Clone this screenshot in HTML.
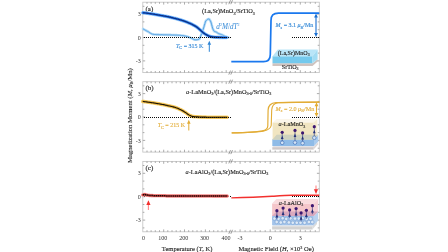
<!DOCTYPE html>
<html><head><meta charset="utf-8"><style>
html,body{margin:0;padding:0;background:#fff;}
body{width:448px;height:252px;overflow:hidden;}
svg{display:block;}
</style></head><body>
<svg width="448" height="252" viewBox="0 0 448 252">
<rect width="448" height="252" fill="#fff"/>
<rect x="142.8" y="2.2" width="176.5" height="70.4" fill="none" stroke="#c4c4c4" stroke-width="0.85"/>
<path d="M147.0,72.6v-1.6M147.0,2.2v1.6M151.1,72.6v-1.6M151.1,2.2v1.6M155.3,72.6v-1.6M155.3,2.2v1.6M159.5,72.6v-1.6M159.5,2.2v1.6M163.7,72.6v-2.4M163.7,2.2v2.4M167.8,72.6v-1.6M167.8,2.2v1.6M172.0,72.6v-1.6M172.0,2.2v1.6M176.2,72.6v-1.6M176.2,2.2v1.6M180.3,72.6v-1.6M180.3,2.2v1.6M184.5,72.6v-2.4M184.5,2.2v2.4M188.7,72.6v-1.6M188.7,2.2v1.6M192.8,72.6v-1.6M192.8,2.2v1.6M197.0,72.6v-1.6M197.0,2.2v1.6M201.2,72.6v-1.6M201.2,2.2v1.6M205.4,72.6v-2.4M205.4,2.2v2.4M209.5,72.6v-1.6M209.5,2.2v1.6M213.7,72.6v-1.6M213.7,2.2v1.6M217.9,72.6v-1.6M217.9,2.2v1.6M222.0,72.6v-1.6M222.0,2.2v1.6M226.2,72.6v-2.4M226.2,2.2v2.4M235.1,72.6v-1.6M235.1,2.2v1.6M240.1,72.6v-2.4M240.1,2.2v2.4M245.1,72.6v-1.6M245.1,2.2v1.6M250.1,72.6v-1.6M250.1,2.2v1.6M255.2,72.6v-1.6M255.2,2.2v1.6M260.2,72.6v-1.6M260.2,2.2v1.6M265.2,72.6v-1.6M265.2,2.2v1.6M270.2,72.6v-2.4M270.2,2.2v2.4M275.2,72.6v-1.6M275.2,2.2v1.6M280.2,72.6v-1.6M280.2,2.2v1.6M285.2,72.6v-1.6M285.2,2.2v1.6M290.3,72.6v-1.6M290.3,2.2v1.6M295.3,72.6v-1.6M295.3,2.2v1.6M300.3,72.6v-2.4M300.3,2.2v2.4M305.3,72.6v-1.6M305.3,2.2v1.6M310.3,72.6v-1.6M310.3,2.2v1.6M315.3,72.6v-1.6M315.3,2.2v1.6M142.8,68.7h1.6M319.3,68.7h-1.6M142.8,60.9h2.4M319.3,60.9h-2.4M142.8,53.1h1.6M319.3,53.1h-1.6M142.8,45.3h1.6M319.3,45.3h-1.6M142.8,37.5h2.4M319.3,37.5h-2.4M142.8,29.7h1.6M319.3,29.7h-1.6M142.8,21.9h1.6M319.3,21.9h-1.6M142.8,14.1h2.4M319.3,14.1h-2.4M142.8,6.3h1.6M319.3,6.3h-1.6" stroke="#8a8a8a" stroke-width="0.7" fill="none"/>
<path d="M228.8,74.6l1.7,-4M230.8,74.6l1.7,-4M228.8,4.2l1.7,-4M230.8,4.2l1.7,-4" stroke="#6a6a6a" stroke-width="0.65"/>
<text x="140.8" y="16.2" font-family="'Liberation Serif', serif" font-size="6.0" text-anchor="end" fill="#333" stroke="none">3</text>
<text x="140.8" y="39.6" font-family="'Liberation Serif', serif" font-size="6.0" text-anchor="end" fill="#333" stroke="none">0</text>
<text x="140.8" y="63.0" font-family="'Liberation Serif', serif" font-size="6.0" text-anchor="end" fill="#333" stroke="none">-3</text>
<rect x="142.8" y="81.7" width="176.5" height="70.4" fill="none" stroke="#c4c4c4" stroke-width="0.85"/>
<path d="M147.0,152.1v-1.6M147.0,81.7v1.6M151.1,152.1v-1.6M151.1,81.7v1.6M155.3,152.1v-1.6M155.3,81.7v1.6M159.5,152.1v-1.6M159.5,81.7v1.6M163.7,152.1v-2.4M163.7,81.7v2.4M167.8,152.1v-1.6M167.8,81.7v1.6M172.0,152.1v-1.6M172.0,81.7v1.6M176.2,152.1v-1.6M176.2,81.7v1.6M180.3,152.1v-1.6M180.3,81.7v1.6M184.5,152.1v-2.4M184.5,81.7v2.4M188.7,152.1v-1.6M188.7,81.7v1.6M192.8,152.1v-1.6M192.8,81.7v1.6M197.0,152.1v-1.6M197.0,81.7v1.6M201.2,152.1v-1.6M201.2,81.7v1.6M205.4,152.1v-2.4M205.4,81.7v2.4M209.5,152.1v-1.6M209.5,81.7v1.6M213.7,152.1v-1.6M213.7,81.7v1.6M217.9,152.1v-1.6M217.9,81.7v1.6M222.0,152.1v-1.6M222.0,81.7v1.6M226.2,152.1v-2.4M226.2,81.7v2.4M235.1,152.1v-1.6M235.1,81.7v1.6M240.1,152.1v-2.4M240.1,81.7v2.4M245.1,152.1v-1.6M245.1,81.7v1.6M250.1,152.1v-1.6M250.1,81.7v1.6M255.2,152.1v-1.6M255.2,81.7v1.6M260.2,152.1v-1.6M260.2,81.7v1.6M265.2,152.1v-1.6M265.2,81.7v1.6M270.2,152.1v-2.4M270.2,81.7v2.4M275.2,152.1v-1.6M275.2,81.7v1.6M280.2,152.1v-1.6M280.2,81.7v1.6M285.2,152.1v-1.6M285.2,81.7v1.6M290.3,152.1v-1.6M290.3,81.7v1.6M295.3,152.1v-1.6M295.3,81.7v1.6M300.3,152.1v-2.4M300.3,81.7v2.4M305.3,152.1v-1.6M305.3,81.7v1.6M310.3,152.1v-1.6M310.3,81.7v1.6M315.3,152.1v-1.6M315.3,81.7v1.6M142.8,148.2h1.6M319.3,148.2h-1.6M142.8,140.4h2.4M319.3,140.4h-2.4M142.8,132.6h1.6M319.3,132.6h-1.6M142.8,124.8h1.6M319.3,124.8h-1.6M142.8,117.0h2.4M319.3,117.0h-2.4M142.8,109.2h1.6M319.3,109.2h-1.6M142.8,101.4h1.6M319.3,101.4h-1.6M142.8,93.6h2.4M319.3,93.6h-2.4M142.8,85.8h1.6M319.3,85.8h-1.6" stroke="#8a8a8a" stroke-width="0.7" fill="none"/>
<path d="M228.8,154.1l1.7,-4M230.8,154.1l1.7,-4M228.8,83.7l1.7,-4M230.8,83.7l1.7,-4" stroke="#6a6a6a" stroke-width="0.65"/>
<text x="140.8" y="95.7" font-family="'Liberation Serif', serif" font-size="6.0" text-anchor="end" fill="#333" stroke="none">3</text>
<text x="140.8" y="119.1" font-family="'Liberation Serif', serif" font-size="6.0" text-anchor="end" fill="#333" stroke="none">0</text>
<text x="140.8" y="142.5" font-family="'Liberation Serif', serif" font-size="6.0" text-anchor="end" fill="#333" stroke="none">-3</text>
<rect x="142.8" y="161.4" width="176.5" height="70.4" fill="none" stroke="#c4c4c4" stroke-width="0.85"/>
<path d="M147.0,231.8v-1.6M147.0,161.4v1.6M151.1,231.8v-1.6M151.1,161.4v1.6M155.3,231.8v-1.6M155.3,161.4v1.6M159.5,231.8v-1.6M159.5,161.4v1.6M163.7,231.8v-2.4M163.7,161.4v2.4M167.8,231.8v-1.6M167.8,161.4v1.6M172.0,231.8v-1.6M172.0,161.4v1.6M176.2,231.8v-1.6M176.2,161.4v1.6M180.3,231.8v-1.6M180.3,161.4v1.6M184.5,231.8v-2.4M184.5,161.4v2.4M188.7,231.8v-1.6M188.7,161.4v1.6M192.8,231.8v-1.6M192.8,161.4v1.6M197.0,231.8v-1.6M197.0,161.4v1.6M201.2,231.8v-1.6M201.2,161.4v1.6M205.4,231.8v-2.4M205.4,161.4v2.4M209.5,231.8v-1.6M209.5,161.4v1.6M213.7,231.8v-1.6M213.7,161.4v1.6M217.9,231.8v-1.6M217.9,161.4v1.6M222.0,231.8v-1.6M222.0,161.4v1.6M226.2,231.8v-2.4M226.2,161.4v2.4M235.1,231.8v-1.6M235.1,161.4v1.6M240.1,231.8v-2.4M240.1,161.4v2.4M245.1,231.8v-1.6M245.1,161.4v1.6M250.1,231.8v-1.6M250.1,161.4v1.6M255.2,231.8v-1.6M255.2,161.4v1.6M260.2,231.8v-1.6M260.2,161.4v1.6M265.2,231.8v-1.6M265.2,161.4v1.6M270.2,231.8v-2.4M270.2,161.4v2.4M275.2,231.8v-1.6M275.2,161.4v1.6M280.2,231.8v-1.6M280.2,161.4v1.6M285.2,231.8v-1.6M285.2,161.4v1.6M290.3,231.8v-1.6M290.3,161.4v1.6M295.3,231.8v-1.6M295.3,161.4v1.6M300.3,231.8v-2.4M300.3,161.4v2.4M305.3,231.8v-1.6M305.3,161.4v1.6M310.3,231.8v-1.6M310.3,161.4v1.6M315.3,231.8v-1.6M315.3,161.4v1.6M142.8,227.9h1.6M319.3,227.9h-1.6M142.8,220.1h2.4M319.3,220.1h-2.4M142.8,212.3h1.6M319.3,212.3h-1.6M142.8,204.5h1.6M319.3,204.5h-1.6M142.8,196.7h2.4M319.3,196.7h-2.4M142.8,188.9h1.6M319.3,188.9h-1.6M142.8,181.1h1.6M319.3,181.1h-1.6M142.8,173.3h2.4M319.3,173.3h-2.4M142.8,165.5h1.6M319.3,165.5h-1.6" stroke="#8a8a8a" stroke-width="0.7" fill="none"/>
<path d="M228.8,233.8l1.7,-4M230.8,233.8l1.7,-4M228.8,163.4l1.7,-4M230.8,163.4l1.7,-4" stroke="#6a6a6a" stroke-width="0.65"/>
<text x="140.8" y="175.4" font-family="'Liberation Serif', serif" font-size="6.0" text-anchor="end" fill="#333" stroke="none">3</text>
<text x="140.8" y="198.8" font-family="'Liberation Serif', serif" font-size="6.0" text-anchor="end" fill="#333" stroke="none">0</text>
<text x="140.8" y="222.2" font-family="'Liberation Serif', serif" font-size="6.0" text-anchor="end" fill="#333" stroke="none">-3</text>
<text x="143.4" y="239.6" font-family="'Liberation Serif', serif" font-size="6.1" text-anchor="middle" fill="#333" stroke="none">0</text>
<text x="162.8" y="239.6" font-family="'Liberation Serif', serif" font-size="6.1" text-anchor="middle" fill="#333" stroke="none">100</text>
<text x="183.7" y="239.6" font-family="'Liberation Serif', serif" font-size="6.1" text-anchor="middle" fill="#333" stroke="none">200</text>
<text x="204.6" y="239.6" font-family="'Liberation Serif', serif" font-size="6.1" text-anchor="middle" fill="#333" stroke="none">300</text>
<text x="226.0" y="239.6" font-family="'Liberation Serif', serif" font-size="6.1" text-anchor="middle" fill="#333" stroke="none">400</text>
<text x="240.1" y="239.6" font-family="'Liberation Serif', serif" font-size="6.1" text-anchor="middle" fill="#333" stroke="none">-3</text>
<text x="270.2" y="239.6" font-family="'Liberation Serif', serif" font-size="6.1" text-anchor="middle" fill="#333" stroke="none">0</text>
<text x="300.3" y="239.6" font-family="'Liberation Serif', serif" font-size="6.1" text-anchor="middle" fill="#333" stroke="none">3</text>
<text x="187.2" y="250.8" font-family="'Liberation Serif', serif" stroke-width="0.12" paint-order="stroke" font-size="6.55" text-anchor="middle" fill="#1e1e1e" stroke="#1e1e1e">Temperature (<tspan font-style="italic">T</tspan>, K)</text>
<text x="276.1" y="250.8" font-family="'Liberation Serif', serif" stroke-width="0.12" paint-order="stroke" font-size="6.55" text-anchor="middle" fill="#1e1e1e" stroke="#1e1e1e">Magnetic Field (<tspan font-style="italic">H</tspan>, ×10<tspan font-size="4.2" dy="-2.2">3</tspan><tspan dy="2.2"> Oe)</tspan></text>
<text transform="translate(131.5,115.6) rotate(-90)" font-family="'Liberation Serif', serif" stroke-width="0.12" paint-order="stroke" font-size="6.65" text-anchor="middle" fill="#1e1e1e" stroke="#1e1e1e">Magnetization Moment (<tspan font-style="italic">M</tspan>, <tspan font-style="italic">μ</tspan><tspan font-size="4.2" dy="1.3">B</tspan><tspan dy="-1.3">/Mn)</tspan></text>
<text x="145.5" y="10.600000000000001" font-family="'Liberation Serif', serif" stroke-width="0.12" paint-order="stroke" font-size="7.0" fill="#1e1e1e" stroke="#1e1e1e">(a)</text>
<text x="145.5" y="90.10000000000001" font-family="'Liberation Serif', serif" stroke-width="0.12" paint-order="stroke" font-size="7.0" fill="#1e1e1e" stroke="#1e1e1e">(b)</text>
<text x="145.5" y="169.8" font-family="'Liberation Serif', serif" stroke-width="0.12" paint-order="stroke" font-size="7.0" fill="#1e1e1e" stroke="#1e1e1e">(c)</text>
<path d="M143.0,28.9L143.4,29.1L143.9,29.4L144.3,29.6L144.7,29.8L145.1,30.1L145.6,30.3L146.0,30.5L146.4,30.8L146.9,31.0L147.3,31.2L147.7,31.5L148.2,31.7L148.6,31.9L149.0,32.2L149.4,32.5L149.9,32.8L150.3,33.1L150.7,33.3L151.2,33.6L151.6,33.8L152.0,34.0L152.5,34.2L152.9,34.3L153.3,34.4L153.7,34.4L154.2,34.5L154.6,34.5L155.0,34.5L155.5,34.5L155.9,34.5L156.3,34.6L156.7,34.6L157.2,34.6L157.6,34.6L158.0,34.6L158.5,34.6L158.9,34.7L159.3,34.7L159.8,34.7L160.2,34.7L160.6,34.7L161.0,34.7L161.5,34.7L161.9,34.7L162.3,34.7L162.8,34.7L163.2,34.8L163.6,34.8L164.1,34.8L164.5,34.8L164.9,34.8L165.3,34.8L165.8,34.8L166.2,34.8L166.6,34.8L167.1,34.9L167.5,34.9L167.9,34.9L168.3,34.9L168.8,34.9L169.2,34.9L169.6,34.9L170.1,34.9L170.5,34.9L170.9,34.9L171.4,35.0L171.8,35.0L172.2,35.0L172.6,35.0L173.1,35.0L173.5,35.0L173.9,35.0L174.4,35.0L174.8,35.1L175.2,35.1L175.7,35.1L176.1,35.1L176.5,35.1L176.9,35.1L177.4,35.2L177.8,35.2L178.2,35.2L178.7,35.2L179.1,35.3L179.5,35.3L179.9,35.3L180.4,35.4L180.8,35.4L181.2,35.5L181.7,35.5L182.1,35.5L182.5,35.6L183.0,35.6L183.4,35.7L183.8,35.7L184.2,35.8L184.7,35.9L185.1,36.0L185.5,36.1L186.0,36.2L186.4,36.3L186.8,36.5L187.3,36.6L187.7,36.7L188.1,36.9L188.5,37.0L189.0,37.2L189.4,37.3L189.8,37.5L190.3,37.6L190.7,37.8L191.1,38.0L191.6,38.2L192.0,38.4L192.4,38.7L192.8,38.9L193.3,39.1L193.7,39.3L194.1,39.5L194.6,39.7L195.0,39.8L195.4,39.8L195.8,39.8L196.3,39.8L196.7,39.7L197.1,39.7L197.6,39.6L198.0,39.5L198.4,39.4L198.9,39.2L199.3,39.0L199.7,38.3L200.1,37.3L200.6,36.3L201.0,35.3L201.4,34.2L201.9,33.0L202.3,31.8L202.7,30.5L203.2,29.2L203.6,27.9L204.0,26.7L204.4,25.2L204.9,23.6L205.3,22.2L205.7,21.1L206.2,20.5L206.6,20.1L207.0,19.8L207.4,19.5L207.9,19.2L208.3,19.1L208.7,19.0L209.2,19.1L209.6,19.6L210.0,20.3L210.5,21.1L210.9,22.1L211.3,23.2L211.7,24.8L212.2,26.6L212.6,28.1L213.0,29.2L213.5,30.2L213.9,31.0L214.3,31.4L214.8,31.6L215.2,31.7L215.6,31.8L216.0,31.9L216.5,32.2L216.9,32.5L217.3,32.8L217.8,33.1L218.2,33.4L218.6,33.6L219.0,33.8L219.5,33.9L219.9,34.1L220.3,34.2L220.8,34.4L221.2,34.5L221.6,34.7L222.1,34.8L222.5,35.0L222.9,35.2L223.3,35.4L223.8,35.7L224.2,35.9L224.6,36.2L225.1,36.4L225.5,36.6L225.9,36.8L226.4,36.9L226.8,37.0L227.2,37.2L227.6,37.3L228.1,37.3L228.5,37.4" stroke="#b6dcf7" stroke-width="2.6" fill="none" stroke-linejoin="round" stroke-linecap="round"/>
<path d="M143.0,28.9L143.4,29.1L143.9,29.4L144.3,29.6L144.7,29.8L145.1,30.1L145.6,30.3L146.0,30.5L146.4,30.8L146.9,31.0L147.3,31.2L147.7,31.5L148.2,31.7L148.6,31.9L149.0,32.2L149.4,32.5L149.9,32.8L150.3,33.1L150.7,33.3L151.2,33.6L151.6,33.8L152.0,34.0L152.5,34.2L152.9,34.3L153.3,34.4L153.7,34.4L154.2,34.5L154.6,34.5L155.0,34.5L155.5,34.5L155.9,34.5L156.3,34.6L156.7,34.6L157.2,34.6L157.6,34.6L158.0,34.6L158.5,34.6L158.9,34.7L159.3,34.7L159.8,34.7L160.2,34.7L160.6,34.7L161.0,34.7L161.5,34.7L161.9,34.7L162.3,34.7L162.8,34.7L163.2,34.8L163.6,34.8L164.1,34.8L164.5,34.8L164.9,34.8L165.3,34.8L165.8,34.8L166.2,34.8L166.6,34.8L167.1,34.9L167.5,34.9L167.9,34.9L168.3,34.9L168.8,34.9L169.2,34.9L169.6,34.9L170.1,34.9L170.5,34.9L170.9,34.9L171.4,35.0L171.8,35.0L172.2,35.0L172.6,35.0L173.1,35.0L173.5,35.0L173.9,35.0L174.4,35.0L174.8,35.1L175.2,35.1L175.7,35.1L176.1,35.1L176.5,35.1L176.9,35.1L177.4,35.2L177.8,35.2L178.2,35.2L178.7,35.2L179.1,35.3L179.5,35.3L179.9,35.3L180.4,35.4L180.8,35.4L181.2,35.5L181.7,35.5L182.1,35.5L182.5,35.6L183.0,35.6L183.4,35.7L183.8,35.7L184.2,35.8L184.7,35.9L185.1,36.0L185.5,36.1L186.0,36.2L186.4,36.3L186.8,36.5L187.3,36.6L187.7,36.7L188.1,36.9L188.5,37.0L189.0,37.2L189.4,37.3L189.8,37.5L190.3,37.6L190.7,37.8L191.1,38.0L191.6,38.2L192.0,38.4L192.4,38.7L192.8,38.9L193.3,39.1L193.7,39.3L194.1,39.5L194.6,39.7L195.0,39.8L195.4,39.8L195.8,39.8L196.3,39.8L196.7,39.7L197.1,39.7L197.6,39.6L198.0,39.5L198.4,39.4L198.9,39.2L199.3,39.0L199.7,38.3L200.1,37.3L200.6,36.3L201.0,35.3L201.4,34.2L201.9,33.0L202.3,31.8L202.7,30.5L203.2,29.2L203.6,27.9L204.0,26.7L204.4,25.2L204.9,23.6L205.3,22.2L205.7,21.1L206.2,20.5L206.6,20.1L207.0,19.8L207.4,19.5L207.9,19.2L208.3,19.1L208.7,19.0L209.2,19.1L209.6,19.6L210.0,20.3L210.5,21.1L210.9,22.1L211.3,23.2L211.7,24.8L212.2,26.6L212.6,28.1L213.0,29.2L213.5,30.2L213.9,31.0L214.3,31.4L214.8,31.6L215.2,31.7L215.6,31.8L216.0,31.9L216.5,32.2L216.9,32.5L217.3,32.8L217.8,33.1L218.2,33.4L218.6,33.6L219.0,33.8L219.5,33.9L219.9,34.1L220.3,34.2L220.8,34.4L221.2,34.5L221.6,34.7L222.1,34.8L222.5,35.0L222.9,35.2L223.3,35.4L223.8,35.7L224.2,35.9L224.6,36.2L225.1,36.4L225.5,36.6L225.9,36.8L226.4,36.9L226.8,37.0L227.2,37.2L227.6,37.3L228.1,37.3L228.5,37.4" stroke="#4a9ae0" stroke-width="0.9" fill="none" stroke-linejoin="round"/>
<path d="M142.8,12.7L143.5,12.8L144.2,12.9L144.9,12.9L145.6,13.0L146.3,13.1L147.0,13.2L147.7,13.3L148.4,13.4L149.1,13.5L149.8,13.6L150.5,13.7L151.2,13.8L151.9,13.9L152.6,14.0L153.4,14.1L154.1,14.2L154.8,14.4L155.5,14.5L156.2,14.6L156.9,14.7L157.6,14.9L158.3,15.0L159.0,15.1L159.7,15.2L160.4,15.4L161.1,15.5L161.8,15.6L162.5,15.7L163.2,15.8L163.9,16.0L164.6,16.1L165.3,16.2L166.0,16.3L166.7,16.5L167.4,16.6L168.1,16.7L168.8,16.9L169.5,17.1L170.2,17.2L170.9,17.4L171.6,17.6L172.3,17.7L173.0,17.9L173.7,18.1L174.5,18.3L175.2,18.4L175.9,18.6L176.6,18.8L177.3,19.0L178.0,19.2L178.7,19.4L179.4,19.6L180.1,19.8L180.8,20.0L181.5,20.2L182.2,20.5L182.9,20.7L183.6,20.9L184.3,21.2L185.0,21.4L185.7,21.7L186.4,21.9L187.1,22.2L187.8,22.5L188.5,22.8L189.2,23.1L189.9,23.3L190.6,23.7L191.3,24.0L192.0,24.3L192.7,24.7L193.4,25.1L194.1,25.4L194.8,25.9L195.6,26.3L196.3,26.8L197.0,27.3L197.7,27.8L198.4,28.4L199.1,29.0L199.8,29.6L200.5,30.2L201.2,30.9L201.9,31.5L202.6,32.2L203.3,32.8L204.0,33.3L204.7,33.8L205.4,34.2L206.1,34.6L206.8,35.0L207.5,35.4L208.2,35.7L208.9,36.0L209.6,36.3L210.3,36.5L211.0,36.7L211.7,36.9L212.4,36.9L213.1,37.0L213.8,37.1L214.5,37.1L215.2,37.2L215.9,37.2L216.7,37.3L217.4,37.3L218.1,37.3L218.8,37.4L219.5,37.4L220.2,37.4L220.9,37.4L221.6,37.4L222.3,37.5L223.0,37.5L223.7,37.5L224.4,37.5L225.1,37.5L225.8,37.5L226.5,37.5" stroke="#a9d2f6" stroke-width="3.6" fill="none" stroke-linejoin="round" stroke-linecap="round"/>
<path d="M142.8,12.7L143.5,12.8L144.2,12.9L144.9,12.9L145.6,13.0L146.3,13.1L147.0,13.2L147.7,13.3L148.4,13.4L149.1,13.5L149.8,13.6L150.5,13.7L151.2,13.8L151.9,13.9L152.6,14.0L153.4,14.1L154.1,14.2L154.8,14.4L155.5,14.5L156.2,14.6L156.9,14.7L157.6,14.9L158.3,15.0L159.0,15.1L159.7,15.2L160.4,15.4L161.1,15.5L161.8,15.6L162.5,15.7L163.2,15.8L163.9,16.0L164.6,16.1L165.3,16.2L166.0,16.3L166.7,16.5L167.4,16.6L168.1,16.7L168.8,16.9L169.5,17.1L170.2,17.2L170.9,17.4L171.6,17.6L172.3,17.7L173.0,17.9L173.7,18.1L174.5,18.3L175.2,18.4L175.9,18.6L176.6,18.8L177.3,19.0L178.0,19.2L178.7,19.4L179.4,19.6L180.1,19.8L180.8,20.0L181.5,20.2L182.2,20.5L182.9,20.7L183.6,20.9L184.3,21.2L185.0,21.4L185.7,21.7L186.4,21.9L187.1,22.2L187.8,22.5L188.5,22.8L189.2,23.1L189.9,23.3L190.6,23.7L191.3,24.0L192.0,24.3L192.7,24.7L193.4,25.1L194.1,25.4L194.8,25.9L195.6,26.3L196.3,26.8L197.0,27.3L197.7,27.8L198.4,28.4L199.1,29.0L199.8,29.6L200.5,30.2L201.2,30.9L201.9,31.5L202.6,32.2L203.3,32.8L204.0,33.3L204.7,33.8L205.4,34.2L206.1,34.6L206.8,35.0L207.5,35.4L208.2,35.7L208.9,36.0L209.6,36.3L210.3,36.5L211.0,36.7L211.7,36.9L212.4,36.9L213.1,37.0L213.8,37.1L214.5,37.1L215.2,37.2L215.9,37.2L216.7,37.3L217.4,37.3L218.1,37.3L218.8,37.4L219.5,37.4L220.2,37.4L220.9,37.4L221.6,37.4L222.3,37.5L223.0,37.5L223.7,37.5L224.4,37.5L225.1,37.5L225.8,37.5L226.5,37.5" stroke="#2a7ff0" stroke-width="2.4" fill="none" stroke-linejoin="round" stroke-linecap="round"/>
<path d="M142.8,12.7L143.5,12.8L144.2,12.9L144.9,12.9L145.6,13.0L146.3,13.1L147.0,13.2L147.7,13.3L148.4,13.4L149.1,13.5L149.8,13.6L150.5,13.7L151.2,13.8L151.9,13.9L152.6,14.0L153.4,14.1L154.1,14.2L154.8,14.4L155.5,14.5L156.2,14.6L156.9,14.7L157.6,14.9L158.3,15.0L159.0,15.1L159.7,15.2L160.4,15.4L161.1,15.5L161.8,15.6L162.5,15.7L163.2,15.8L163.9,16.0L164.6,16.1L165.3,16.2L166.0,16.3L166.7,16.5L167.4,16.6L168.1,16.7L168.8,16.9L169.5,17.1L170.2,17.2L170.9,17.4L171.6,17.6L172.3,17.7L173.0,17.9L173.7,18.1L174.5,18.3L175.2,18.4L175.9,18.6L176.6,18.8L177.3,19.0L178.0,19.2L178.7,19.4L179.4,19.6L180.1,19.8L180.8,20.0L181.5,20.2L182.2,20.5L182.9,20.7L183.6,20.9L184.3,21.2L185.0,21.4L185.7,21.7L186.4,21.9L187.1,22.2L187.8,22.5L188.5,22.8L189.2,23.1L189.9,23.3L190.6,23.7L191.3,24.0L192.0,24.3L192.7,24.7L193.4,25.1L194.1,25.4L194.8,25.9L195.6,26.3L196.3,26.8L197.0,27.3L197.7,27.8L198.4,28.4L199.1,29.0L199.8,29.6L200.5,30.2L201.2,30.9L201.9,31.5L202.6,32.2L203.3,32.8L204.0,33.3L204.7,33.8L205.4,34.2L206.1,34.6L206.8,35.0L207.5,35.4L208.2,35.7L208.9,36.0L209.6,36.3L210.3,36.5L211.0,36.7L211.7,36.9L212.4,36.9L213.1,37.0L213.8,37.1L214.5,37.1L215.2,37.2L215.9,37.2L216.7,37.3L217.4,37.3L218.1,37.3L218.8,37.4L219.5,37.4L220.2,37.4L220.9,37.4L221.6,37.4L222.3,37.5L223.0,37.5L223.7,37.5L224.4,37.5L225.1,37.5L225.8,37.5L226.5,37.5" stroke="#0d2f82" stroke-width="1.2" fill="none" stroke-linejoin="round"/>
<line x1="144" y1="37.5" x2="231" y2="37.5" stroke="#0a0a0a" stroke-width="1.0" stroke-dasharray="1,1"/>
<text x="202.1" y="13.2" font-family="'Liberation Serif', serif" stroke-width="0.12" paint-order="stroke" font-size="6.3" fill="#1e1e1e" stroke="#1e1e1e">(La,Sr)MnO<tspan font-size="4.2" dy="1.3">3</tspan><tspan dy="-1.3">/SrTiO<tspan font-size="4.2" dy="1.3">3</tspan><tspan dy="-1.3"></tspan></tspan></text>
<text x="216.3" y="28.5" font-family="'Liberation Serif', serif" font-size="7.2" fill="#2f86d6" stroke="none"><tspan font-style="italic">d</tspan><tspan font-size="4.0" dy="-2.4">2</tspan><tspan dy="2.4" font-style="italic">M</tspan>/<tspan font-style="italic">dT</tspan><tspan font-size="4.0" dy="-2.4">2</tspan></text>
<text x="176" y="47.6" font-family="'Liberation Serif', serif" stroke-width="0.12" paint-order="stroke" font-size="6" fill="#2f86d6" stroke="#2f86d6"><tspan font-style="italic">T</tspan><tspan font-size="4.2" dy="1.3">C</tspan><tspan dy="-1.3"> = 315 K</tspan></text>
<path d="M209.3,43.5V51.8" stroke="#2f86d6" stroke-width="1"/><path d="M207.5,44.8L209.3,40.8L211.1,44.8Z" fill="#2f86d6"/>
<path d="M231.3,61.7 H263.5 C268.2,61.7 270.3,59.5 270.3,54.5 L271.0,20.5 C271.0,15.5 273.2,13.2 278.5,13.2 H319.3" stroke="#1a78ee" stroke-width="1.7" fill="none"/>
<line x1="292" y1="37.5" x2="319" y2="37.5" stroke="#0a0a0a" stroke-width="1.0" stroke-dasharray="1,1"/>
<path d="M316,16.5V34" stroke="#1b6fd0" stroke-width="1.1"/><path d="M314.1,17.6L316,13.4L317.9,17.6Z M314.1,32.9L316,37.1L317.9,32.9Z" fill="#1b6fd0"/>
<text x="275.5" y="27.3" font-family="'Liberation Serif', serif" stroke-width="0.12" paint-order="stroke" font-size="6" fill="#2f86d6" stroke="#2f86d6"><tspan font-style="italic">M</tspan><tspan font-size="4.2" dy="1.3" font-style="italic">s</tspan><tspan dy="-1.3"> = 3.1 <tspan font-style="italic">μ</tspan><tspan font-size="4.2" dy="1.3">B</tspan><tspan dy="-1.3">/Mn</tspan></tspan></text>
<path d="M272.5,63.2 H312.5 L317.6,59.2 V61.6 L312.5,65.9 H272.5Z" fill="#cfc3bf"/>
<path d="M272.5,56.3 H312.5 V63.3 H272.5Z" fill="#74c9ed"/>
<path d="M272.5,56.3 L277.8,49.6 H317.6 L312.5,56.3Z" fill="#b9e5f8"/>
<path d="M312.5,56.3 L317.6,49.6 V59.2 L312.5,63.3Z" fill="#a3dcf3"/>
<text x="277.8" y="55" font-family="'Liberation Serif', serif" stroke-width="0.12" paint-order="stroke" font-size="6.0" fill="#1e1e1e" stroke="#1e1e1e">(La,Sr)MnO<tspan font-size="4" dy="1.1">3</tspan><tspan dy="-1.1"></tspan></text>
<text x="281.8" y="69.2" font-family="'Liberation Serif', serif" stroke-width="0.12" paint-order="stroke" font-size="6.0" fill="#1e1e1e" stroke="#1e1e1e">SrTiO<tspan font-size="4" dy="1.1">3</tspan><tspan dy="-1.1"></tspan></text>
<path d="M142.8,101.4L143.5,101.5L144.2,101.6L144.9,101.7L145.6,101.8L146.3,101.9L147.1,102.0L147.8,102.1L148.5,102.2L149.2,102.3L149.9,102.4L150.6,102.5L151.3,102.6L152.0,102.7L152.7,102.8L153.4,102.9L154.1,103.0L154.9,103.1L155.6,103.2L156.3,103.4L157.0,103.5L157.7,103.6L158.4,103.7L159.1,103.8L159.8,104.0L160.5,104.1L161.2,104.2L161.9,104.4L162.7,104.5L163.4,104.6L164.1,104.8L164.8,104.9L165.5,105.1L166.2,105.2L166.9,105.4L167.6,105.6L168.3,105.7L169.0,105.9L169.8,106.0L170.5,106.2L171.2,106.4L171.9,106.5L172.6,106.7L173.3,106.9L174.0,107.1L174.7,107.3L175.4,107.5L176.1,107.8L176.8,108.0L177.6,108.3L178.3,108.6L179.0,108.9L179.7,109.3L180.4,109.6L181.1,109.9L181.8,110.3L182.5,110.7L183.2,111.1L183.9,111.5L184.6,112.0L185.4,112.4L186.1,112.9L186.8,113.4L187.5,114.0L188.2,114.4L188.9,114.9L189.6,115.3L190.3,115.6L191.0,115.9L191.7,116.2L192.4,116.4L193.2,116.5L193.9,116.6L194.6,116.7L195.3,116.7L196.0,116.8L196.7,116.8L197.4,116.9L198.1,116.9L198.8,117.0L199.5,117.0L200.2,117.0L201.0,117.0L201.7,117.1L202.4,117.1L203.1,117.1L203.8,117.1L204.5,117.1L205.2,117.1L205.9,117.1L206.6,117.2L207.3,117.2L208.1,117.2L208.8,117.2L209.5,117.2L210.2,117.2L210.9,117.2L211.6,117.2L212.3,117.2L213.0,117.2L213.7,117.2L214.4,117.2L215.1,117.2L215.9,117.3L216.6,117.3L217.3,117.3L218.0,117.3L218.7,117.3L219.4,117.3L220.1,117.3L220.8,117.3L221.5,117.3L222.2,117.3L222.9,117.3L223.7,117.3L224.4,117.3L225.1,117.3L225.8,117.3L226.5,117.3L227.2,117.3" stroke="#f7d57a" stroke-width="3.6" fill="none" stroke-linecap="round"/>
<path d="M142.8,101.4L143.5,101.5L144.2,101.6L144.9,101.7L145.6,101.8L146.3,101.9L147.1,102.0L147.8,102.1L148.5,102.2L149.2,102.3L149.9,102.4L150.6,102.5L151.3,102.6L152.0,102.7L152.7,102.8L153.4,102.9L154.1,103.0L154.9,103.1L155.6,103.2L156.3,103.4L157.0,103.5L157.7,103.6L158.4,103.7L159.1,103.8L159.8,104.0L160.5,104.1L161.2,104.2L161.9,104.4L162.7,104.5L163.4,104.6L164.1,104.8L164.8,104.9L165.5,105.1L166.2,105.2L166.9,105.4L167.6,105.6L168.3,105.7L169.0,105.9L169.8,106.0L170.5,106.2L171.2,106.4L171.9,106.5L172.6,106.7L173.3,106.9L174.0,107.1L174.7,107.3L175.4,107.5L176.1,107.8L176.8,108.0L177.6,108.3L178.3,108.6L179.0,108.9L179.7,109.3L180.4,109.6L181.1,109.9L181.8,110.3L182.5,110.7L183.2,111.1L183.9,111.5L184.6,112.0L185.4,112.4L186.1,112.9L186.8,113.4L187.5,114.0L188.2,114.4L188.9,114.9L189.6,115.3L190.3,115.6L191.0,115.9L191.7,116.2L192.4,116.4L193.2,116.5L193.9,116.6L194.6,116.7L195.3,116.7L196.0,116.8L196.7,116.8L197.4,116.9L198.1,116.9L198.8,117.0L199.5,117.0L200.2,117.0L201.0,117.0L201.7,117.1L202.4,117.1L203.1,117.1L203.8,117.1L204.5,117.1L205.2,117.1L205.9,117.1L206.6,117.2L207.3,117.2L208.1,117.2L208.8,117.2L209.5,117.2L210.2,117.2L210.9,117.2L211.6,117.2L212.3,117.2L213.0,117.2L213.7,117.2L214.4,117.2L215.1,117.2L215.9,117.3L216.6,117.3L217.3,117.3L218.0,117.3L218.7,117.3L219.4,117.3L220.1,117.3L220.8,117.3L221.5,117.3L222.2,117.3L222.9,117.3L223.7,117.3L224.4,117.3L225.1,117.3L225.8,117.3L226.5,117.3L227.2,117.3" stroke="#e9b43c" stroke-width="2.4" fill="none" stroke-linecap="round"/>
<path d="M142.8,101.4L143.5,101.5L144.2,101.6L144.9,101.7L145.6,101.8L146.3,101.9L147.1,102.0L147.8,102.1L148.5,102.2L149.2,102.3L149.9,102.4L150.6,102.5L151.3,102.6L152.0,102.7L152.7,102.8L153.4,102.9L154.1,103.0L154.9,103.1L155.6,103.2L156.3,103.4L157.0,103.5L157.7,103.6L158.4,103.7L159.1,103.8L159.8,104.0L160.5,104.1L161.2,104.2L161.9,104.4L162.7,104.5L163.4,104.6L164.1,104.8L164.8,104.9L165.5,105.1L166.2,105.2L166.9,105.4L167.6,105.6L168.3,105.7L169.0,105.9L169.8,106.0L170.5,106.2L171.2,106.4L171.9,106.5L172.6,106.7L173.3,106.9L174.0,107.1L174.7,107.3L175.4,107.5L176.1,107.8L176.8,108.0L177.6,108.3L178.3,108.6L179.0,108.9L179.7,109.3L180.4,109.6L181.1,109.9L181.8,110.3L182.5,110.7L183.2,111.1L183.9,111.5L184.6,112.0L185.4,112.4L186.1,112.9L186.8,113.4L187.5,114.0L188.2,114.4L188.9,114.9L189.6,115.3L190.3,115.6L191.0,115.9L191.7,116.2L192.4,116.4L193.2,116.5L193.9,116.6L194.6,116.7L195.3,116.7L196.0,116.8L196.7,116.8L197.4,116.9L198.1,116.9L198.8,117.0L199.5,117.0L200.2,117.0L201.0,117.0L201.7,117.1L202.4,117.1L203.1,117.1L203.8,117.1L204.5,117.1L205.2,117.1L205.9,117.1L206.6,117.2L207.3,117.2L208.1,117.2L208.8,117.2L209.5,117.2L210.2,117.2L210.9,117.2L211.6,117.2L212.3,117.2L213.0,117.2L213.7,117.2L214.4,117.2L215.1,117.2L215.9,117.3L216.6,117.3L217.3,117.3L218.0,117.3L218.7,117.3L219.4,117.3L220.1,117.3L220.8,117.3L221.5,117.3L222.2,117.3L222.9,117.3L223.7,117.3L224.4,117.3L225.1,117.3L225.8,117.3L226.5,117.3L227.2,117.3" stroke="#1c1406" stroke-width="1.1" fill="none"/>
<line x1="144" y1="117.5" x2="231" y2="117.5" stroke="#0a0a0a" stroke-width="1.0" stroke-dasharray="1,1"/>
<text x="186.1" y="94.0" font-family="'Liberation Serif', serif" stroke-width="0.12" paint-order="stroke" font-size="6.3" fill="#1e1e1e" stroke="#1e1e1e"><tspan font-style="italic">a</tspan>-LaMnO<tspan font-size="4.2" dy="1.3">3</tspan><tspan dy="-1.3">/(La,Sr)MnO<tspan font-size="4.2" dy="1.3">3-δ</tspan><tspan dy="-1.3">/SrTiO<tspan font-size="4.2" dy="1.3">3</tspan><tspan dy="-1.3"></tspan></tspan></tspan></text>
<text x="157.7" y="127.3" font-family="'Liberation Serif', serif" stroke-width="0.12" paint-order="stroke" font-size="6" fill="#e2ac35" stroke="#e2ac35"><tspan font-style="italic">T</tspan><tspan font-size="4.2" dy="1.3">C</tspan><tspan dy="-1.3"> = 215 K</tspan></text>
<path d="M188.8,122.5V130.5" stroke="#e2ac35" stroke-width="1"/><path d="M187,123.8L188.8,119.8L190.6,123.8Z" fill="#e2ac35"/>
<path d="M231.7,132.8 C245,132.6 258,132 263.5,130.6 C266.5,129.8 267.6,128.5 267.8,126 L268.1,110 C268.3,105 270.5,103 276,102.6 C280,102.3 285,102.2 319.5,102.1" stroke="#e2ac35" stroke-width="1.2" fill="none"/>
<path d="M231.7,132.9 C245,132.7 258,132.1 264,130.9 C268,130 270.5,129 271.2,125.5 L271.7,110 C272,105.5 273.5,103.2 278,102.7 C283,102.3 290,102.2 319.5,102.1" stroke="#e2ac35" stroke-width="1.1" fill="none"/>
<line x1="292" y1="117.5" x2="319" y2="117.5" stroke="#0a0a0a" stroke-width="1.0" stroke-dasharray="1,1"/>
<path d="M316.5,105V114" stroke="#e2ac35" stroke-width="1.1"/><path d="M314.6,106.2L316.5,102.2L318.4,106.2Z M314.6,113L316.5,117L318.4,113Z" fill="#e2ac35"/>
<text x="275.6" y="110.5" font-family="'Liberation Serif', serif" stroke-width="0.12" paint-order="stroke" font-size="6.15" fill="#e2ac35" stroke="#e2ac35"><tspan font-style="italic">M</tspan><tspan font-size="4.2" dy="1.3" font-style="italic">s</tspan><tspan dy="-1.3"> = 2.0 <tspan font-style="italic">μ</tspan><tspan font-size="4.2" dy="1.3">B</tspan><tspan dy="-1.3">/Mn</tspan></tspan></text>
<path d="M272.3,147.2 L276.8,142.2 H318.1 L313.6,147.2Z" fill="#ebe7e7" opacity="1"/>
<path d="M313.6,147.2 L318.1,142.2 V144.6 L313.6,149.6Z" fill="#dcd6d6" opacity="1"/>
<rect x="272.3" y="147.2" width="41.30000000000001" height="2.4000000000000057" fill="#cfc8c8" opacity="1"/>
<path d="M272.3,139.4 L276.6,134.8 H318.3 L314.0,139.4Z" fill="#bfc6b0" opacity="1"/>
<path d="M314.0,139.4 L318.3,134.8 V141.5 L314.0,146.1Z" fill="#a9cbee" opacity="1"/>
<rect x="272.3" y="139.4" width="41.69999999999999" height="6.699999999999989" fill="#8fbbe7" opacity="1"/>
<path d="M272.6,122.6 L276.6,119.0 H317.4 L313.4,122.6Z" fill="#faf5e6" opacity="0.85"/>
<path d="M313.4,122.6 L317.4,119.0 V135.8 L313.4,139.4Z" fill="#f3e8c8" opacity="0.85"/>
<rect x="272.6" y="122.6" width="40.799999999999955" height="16.80000000000001" fill="#efe1b6" opacity="0.85"/>
<path d="M272.6,139.4 L276.8,134.8 H317.6 L313.4,139.4Z" fill="#cdd1c0" opacity="0.95"/>
<text x="278.6" y="126.4" font-family="'Liberation Serif', serif" stroke-width="0.12" paint-order="stroke" font-size="6.2" fill="#1e1e1e" stroke="#1e1e1e"><tspan font-style="italic">a</tspan>-LaMnO<tspan font-size="4" dy="1.1">3</tspan><tspan dy="-1.1"></tspan></text>
<path d="M282.2,133.3V141.0" stroke="#23307a" stroke-width="0.6"/><path d="M280.8,138.9L282.2,135.70000000000002L283.59999999999997,138.9Z" fill="#23307a"/>
<circle cx="282.2" cy="142.8" r="1.8" fill="#d3e3f5" stroke="#3a68b4" stroke-width="0.6"/>
<circle cx="282.2" cy="132.3" r="1.6" fill="#3b1670"/>
<path d="M295.0,131.4V140.79999999999998" stroke="#23307a" stroke-width="0.6"/><path d="M293.6,137.0L295.0,133.8L296.4,137.0Z" fill="#23307a"/>
<circle cx="295.0" cy="142.6" r="1.8" fill="#d3e3f5" stroke="#3a68b4" stroke-width="0.6"/>
<circle cx="295.0" cy="130.4" r="1.6" fill="#3b1670"/>
<path d="M302.6,133.9V141.39999999999998" stroke="#23307a" stroke-width="0.6"/><path d="M301.20000000000005,139.5L302.6,136.3L304.0,139.5Z" fill="#23307a"/>
<circle cx="302.6" cy="143.2" r="1.8" fill="#d3e3f5" stroke="#3a68b4" stroke-width="0.6"/>
<circle cx="302.6" cy="132.9" r="1.6" fill="#3b1670"/>
<path d="M314.3,127.7V136.0" stroke="#23307a" stroke-width="0.6"/><path d="M312.90000000000003,133.3L314.3,130.1L315.7,133.3Z" fill="#23307a"/>
<circle cx="314.3" cy="137.8" r="1.8" fill="#d3e3f5" stroke="#3a68b4" stroke-width="0.6"/>
<circle cx="314.3" cy="126.7" r="1.6" fill="#3b1670"/>
<line x1="144" y1="196.5" x2="231" y2="196.5" stroke="#0a0a0a" stroke-width="1.0" stroke-dasharray="1,1"/>
<path d="M142.8,194.9L143.5,194.7L144.2,194.6L144.9,194.6L145.6,194.8L146.3,195.0L147.1,195.1L147.8,195.2L148.5,195.3L149.2,195.4L149.9,195.5L150.6,195.5L151.3,195.6L152.0,195.6L152.7,195.6L153.4,195.7L154.1,195.7L154.9,195.7L155.6,195.7L156.3,195.7L157.0,195.8L157.7,195.8L158.4,195.8L159.1,195.8L159.8,195.8L160.5,195.8L161.2,195.8L161.9,195.8L162.7,195.8L163.4,195.8L164.1,195.8L164.8,195.8L165.5,195.8L166.2,195.9L166.9,195.9L167.6,195.9L168.3,195.9L169.0,195.9L169.8,195.9L170.5,195.9L171.2,195.9L171.9,195.9L172.6,195.9L173.3,195.9L174.0,195.9L174.7,195.9L175.4,195.9L176.1,195.9L176.8,195.9L177.6,195.9L178.3,195.9L179.0,195.9L179.7,195.9L180.4,195.9L181.1,195.9L181.8,195.9L182.5,195.9L183.2,195.9L183.9,195.9L184.6,195.9L185.4,195.9L186.1,196.0L186.8,196.0L187.5,196.0L188.2,196.0L188.9,196.0L189.6,196.0L190.3,196.0L191.0,196.0L191.7,196.0L192.4,196.0L193.2,196.0L193.9,196.0L194.6,196.0L195.3,196.0L196.0,196.0L196.7,196.0L197.4,196.0L198.1,196.0L198.8,196.0L199.5,196.0L200.2,196.0L201.0,196.0L201.7,196.0L202.4,196.0L203.1,196.0L203.8,196.0L204.5,196.0L205.2,196.0L205.9,196.0L206.6,196.0L207.3,196.0L208.1,196.0L208.8,196.0L209.5,196.0L210.2,196.0L210.9,196.0L211.6,196.0L212.3,196.0L213.0,196.1L213.7,196.1L214.4,196.1L215.1,196.1L215.9,196.1L216.6,196.1L217.3,196.1L218.0,196.1L218.7,196.1L219.4,196.1L220.1,196.1L220.8,196.1L221.5,196.1L222.2,196.1L222.9,196.1L223.7,196.1L224.4,196.1L225.1,196.1L225.8,196.1L226.5,196.1L227.2,196.1" stroke="#f9b4b4" stroke-width="3.6" fill="none" stroke-linecap="round"/>
<path d="M142.8,194.9L143.5,194.7L144.2,194.6L144.9,194.6L145.6,194.8L146.3,195.0L147.1,195.1L147.8,195.2L148.5,195.3L149.2,195.4L149.9,195.5L150.6,195.5L151.3,195.6L152.0,195.6L152.7,195.6L153.4,195.7L154.1,195.7L154.9,195.7L155.6,195.7L156.3,195.7L157.0,195.8L157.7,195.8L158.4,195.8L159.1,195.8L159.8,195.8L160.5,195.8L161.2,195.8L161.9,195.8L162.7,195.8L163.4,195.8L164.1,195.8L164.8,195.8L165.5,195.8L166.2,195.9L166.9,195.9L167.6,195.9L168.3,195.9L169.0,195.9L169.8,195.9L170.5,195.9L171.2,195.9L171.9,195.9L172.6,195.9L173.3,195.9L174.0,195.9L174.7,195.9L175.4,195.9L176.1,195.9L176.8,195.9L177.6,195.9L178.3,195.9L179.0,195.9L179.7,195.9L180.4,195.9L181.1,195.9L181.8,195.9L182.5,195.9L183.2,195.9L183.9,195.9L184.6,195.9L185.4,195.9L186.1,196.0L186.8,196.0L187.5,196.0L188.2,196.0L188.9,196.0L189.6,196.0L190.3,196.0L191.0,196.0L191.7,196.0L192.4,196.0L193.2,196.0L193.9,196.0L194.6,196.0L195.3,196.0L196.0,196.0L196.7,196.0L197.4,196.0L198.1,196.0L198.8,196.0L199.5,196.0L200.2,196.0L201.0,196.0L201.7,196.0L202.4,196.0L203.1,196.0L203.8,196.0L204.5,196.0L205.2,196.0L205.9,196.0L206.6,196.0L207.3,196.0L208.1,196.0L208.8,196.0L209.5,196.0L210.2,196.0L210.9,196.0L211.6,196.0L212.3,196.0L213.0,196.1L213.7,196.1L214.4,196.1L215.1,196.1L215.9,196.1L216.6,196.1L217.3,196.1L218.0,196.1L218.7,196.1L219.4,196.1L220.1,196.1L220.8,196.1L221.5,196.1L222.2,196.1L222.9,196.1L223.7,196.1L224.4,196.1L225.1,196.1L225.8,196.1L226.5,196.1L227.2,196.1" stroke="#e4504d" stroke-width="2.5" fill="none" stroke-linecap="round"/>
<path d="M142.8,194.9L143.5,194.7L144.2,194.6L144.9,194.6L145.6,194.8L146.3,195.0L147.1,195.1L147.8,195.2L148.5,195.3L149.2,195.4L149.9,195.5L150.6,195.5L151.3,195.6L152.0,195.6L152.7,195.6L153.4,195.7L154.1,195.7L154.9,195.7L155.6,195.7L156.3,195.7L157.0,195.8L157.7,195.8L158.4,195.8L159.1,195.8L159.8,195.8L160.5,195.8L161.2,195.8L161.9,195.8L162.7,195.8L163.4,195.8L164.1,195.8L164.8,195.8L165.5,195.8L166.2,195.9L166.9,195.9L167.6,195.9L168.3,195.9L169.0,195.9L169.8,195.9L170.5,195.9L171.2,195.9L171.9,195.9L172.6,195.9L173.3,195.9L174.0,195.9L174.7,195.9L175.4,195.9L176.1,195.9L176.8,195.9L177.6,195.9L178.3,195.9L179.0,195.9L179.7,195.9L180.4,195.9L181.1,195.9L181.8,195.9L182.5,195.9L183.2,195.9L183.9,195.9L184.6,195.9L185.4,195.9L186.1,196.0L186.8,196.0L187.5,196.0L188.2,196.0L188.9,196.0L189.6,196.0L190.3,196.0L191.0,196.0L191.7,196.0L192.4,196.0L193.2,196.0L193.9,196.0L194.6,196.0L195.3,196.0L196.0,196.0L196.7,196.0L197.4,196.0L198.1,196.0L198.8,196.0L199.5,196.0L200.2,196.0L201.0,196.0L201.7,196.0L202.4,196.0L203.1,196.0L203.8,196.0L204.5,196.0L205.2,196.0L205.9,196.0L206.6,196.0L207.3,196.0L208.1,196.0L208.8,196.0L209.5,196.0L210.2,196.0L210.9,196.0L211.6,196.0L212.3,196.0L213.0,196.1L213.7,196.1L214.4,196.1L215.1,196.1L215.9,196.1L216.6,196.1L217.3,196.1L218.0,196.1L218.7,196.1L219.4,196.1L220.1,196.1L220.8,196.1L221.5,196.1L222.2,196.1L222.9,196.1L223.7,196.1L224.4,196.1L225.1,196.1L225.8,196.1L226.5,196.1L227.2,196.1" stroke="#1a0606" stroke-width="1.5" fill="none" stroke-dasharray="1.4,0.5"/>
<text x="185.6" y="173.8" font-family="'Liberation Serif', serif" stroke-width="0.12" paint-order="stroke" font-size="6.3" fill="#1e1e1e" stroke="#1e1e1e"><tspan font-style="italic">a</tspan>-LaAlO<tspan font-size="4.2" dy="1.3">3</tspan><tspan dy="-1.3">/(La,Sr)MnO<tspan font-size="4.2" dy="1.3">3-δ</tspan><tspan dy="-1.3">/SrTiO<tspan font-size="4.2" dy="1.3">3</tspan><tspan dy="-1.3"></tspan></tspan></tspan></text>
<path d="M148.4,204V210" stroke="#f88" stroke-width="1.1"/><path d="M146.3,205L148.4,200.2L150.5,205Z" fill="#f2302e"/>
<line x1="292" y1="196.5" x2="319" y2="196.5" stroke="#0a0a0a" stroke-width="1.0" stroke-dasharray="1,1"/>
<path d="M231.3,197.9 C250,197.6 262,197 272,196.3 C280,195.8 286,195.4 292,195.3 H319.3" stroke="#f2302e" stroke-width="1.4" fill="none"/>
<path d="M316,185.5V190" stroke="#f88" stroke-width="1.1"/><path d="M313.9,189.2L316,194L318.1,189.2Z" fill="#f2302e"/>
<path d="M272.1,226.3 L276.70000000000005,220.9 H317.0 L312.4,226.3Z" fill="#f0f0f0" opacity="1"/>
<path d="M312.4,226.3 L317.0,220.9 V224.1 L312.4,229.5Z" fill="#dcdcdc" opacity="1"/>
<rect x="272.1" y="226.3" width="40.299999999999955" height="3.1999999999999886" fill="#d2d2d2" opacity="1"/>
<path d="M272.1,216.0 L276.40000000000003,211.4 H318.1 L313.8,216.0Z" fill="#c8a8c4" opacity="1"/>
<path d="M313.8,216.0 L318.1,211.4 V220.70000000000002 L313.8,225.3Z" fill="#b9d3ef" opacity="1"/>
<rect x="272.1" y="216.0" width="41.69999999999999" height="9.300000000000011" fill="#a3c4ea" opacity="1"/>
<circle cx="274.4" cy="218.6" r="1.75" fill="#dbe8f6" stroke="#6a93cc" stroke-width="0.45"/>
<circle cx="278.5" cy="218.7" r="1.75" fill="#dbe8f6" stroke="#6a93cc" stroke-width="0.45"/>
<circle cx="282.7" cy="218.2" r="1.75" fill="#dbe8f6" stroke="#6a93cc" stroke-width="0.45"/>
<circle cx="286.2" cy="218.9" r="1.75" fill="#dbe8f6" stroke="#6a93cc" stroke-width="0.45"/>
<circle cx="290.4" cy="218.3" r="1.75" fill="#dbe8f6" stroke="#6a93cc" stroke-width="0.45"/>
<circle cx="295.0" cy="218.6" r="1.75" fill="#dbe8f6" stroke="#6a93cc" stroke-width="0.45"/>
<circle cx="298.9" cy="218.6" r="1.75" fill="#dbe8f6" stroke="#6a93cc" stroke-width="0.45"/>
<circle cx="302.7" cy="218.3" r="1.75" fill="#dbe8f6" stroke="#6a93cc" stroke-width="0.45"/>
<circle cx="306.7" cy="219.0" r="1.75" fill="#dbe8f6" stroke="#6a93cc" stroke-width="0.45"/>
<circle cx="310.6" cy="218.8" r="1.75" fill="#dbe8f6" stroke="#6a93cc" stroke-width="0.45"/>
<circle cx="276.7" cy="222.0" r="1.75" fill="#dbe8f6" stroke="#6a93cc" stroke-width="0.45"/>
<circle cx="280.8" cy="222.5" r="1.75" fill="#dbe8f6" stroke="#6a93cc" stroke-width="0.45"/>
<circle cx="284.4" cy="221.9" r="1.75" fill="#dbe8f6" stroke="#6a93cc" stroke-width="0.45"/>
<circle cx="288.9" cy="222.4" r="1.75" fill="#dbe8f6" stroke="#6a93cc" stroke-width="0.45"/>
<circle cx="292.8" cy="222.8" r="1.75" fill="#dbe8f6" stroke="#6a93cc" stroke-width="0.45"/>
<circle cx="296.8" cy="222.8" r="1.75" fill="#dbe8f6" stroke="#6a93cc" stroke-width="0.45"/>
<circle cx="300.5" cy="222.7" r="1.75" fill="#dbe8f6" stroke="#6a93cc" stroke-width="0.45"/>
<circle cx="304.6" cy="222.8" r="1.75" fill="#dbe8f6" stroke="#6a93cc" stroke-width="0.45"/>
<circle cx="308.9" cy="222.0" r="1.75" fill="#dbe8f6" stroke="#6a93cc" stroke-width="0.45"/>
<circle cx="312.3" cy="222.1" r="1.75" fill="#dbe8f6" stroke="#6a93cc" stroke-width="0.45"/>
<path d="M272.1,203.6 L276.40000000000003,199.0 H318.1 L313.8,203.6Z" fill="#f8d8da" opacity="0.9"/>
<path d="M313.8,203.6 L318.1,199.0 V211.4 L313.8,216.0Z" fill="#f5ccd0" opacity="0.9"/>
<rect x="272.1" y="203.6" width="41.69999999999999" height="12.400000000000006" fill="#f4c0c4" opacity="0.9"/>
<path d="M272.1,216 L276.4,211.4 H318.1 L313.8,216Z" fill="#d6a6bd" opacity="0.85"/>
<text x="278.8" y="204.6" font-family="'Liberation Serif', serif" stroke-width="0.12" paint-order="stroke" font-size="6.2" fill="#1e1e1e" stroke="#1e1e1e"><tspan font-style="italic">a</tspan>-LaAlO<tspan font-size="4" dy="1.1">3</tspan><tspan dy="-1.1"></tspan></text>
<path d="M276.9,211.7V219.2" stroke="#23307a" stroke-width="0.6"/><path d="M275.45,217.5L276.9,214.2L278.34999999999997,217.5Z" fill="#23307a"/>
<circle cx="276.9" cy="210.7" r="1.6" fill="#3b1670"/>
<path d="M283.1,209.1V216.6" stroke="#23307a" stroke-width="0.6"/><path d="M281.65000000000003,214.9L283.1,211.6L284.55,214.9Z" fill="#23307a"/>
<circle cx="283.1" cy="208.1" r="1.6" fill="#3b1670"/>
<path d="M289.6,210.9V218.4" stroke="#23307a" stroke-width="0.6"/><path d="M288.15000000000003,216.70000000000002L289.6,213.4L291.05,216.70000000000002Z" fill="#23307a"/>
<circle cx="289.6" cy="209.9" r="1.6" fill="#3b1670"/>
<path d="M296.1,209.6V217.1" stroke="#23307a" stroke-width="0.6"/><path d="M294.65000000000003,215.4L296.1,212.1L297.55,215.4Z" fill="#23307a"/>
<circle cx="296.1" cy="208.6" r="1.6" fill="#3b1670"/>
<path d="M301.1,213.9V221.4" stroke="#23307a" stroke-width="0.6"/><path d="M299.65000000000003,219.70000000000002L301.1,216.4L302.55,219.70000000000002Z" fill="#23307a"/>
<circle cx="301.1" cy="212.9" r="1.6" fill="#3b1670"/>
<path d="M306.4,211.3V218.8" stroke="#23307a" stroke-width="0.6"/><path d="M304.95,217.10000000000002L306.4,213.8L307.84999999999997,217.10000000000002Z" fill="#23307a"/>
<circle cx="306.4" cy="210.3" r="1.6" fill="#3b1670"/>
<path d="M312.4,206.7V214.2" stroke="#23307a" stroke-width="0.6"/><path d="M310.95,212.5L312.4,209.2L313.84999999999997,212.5Z" fill="#23307a"/>
<circle cx="312.4" cy="205.7" r="1.6" fill="#3b1670"/>
</svg>
</body></html>
